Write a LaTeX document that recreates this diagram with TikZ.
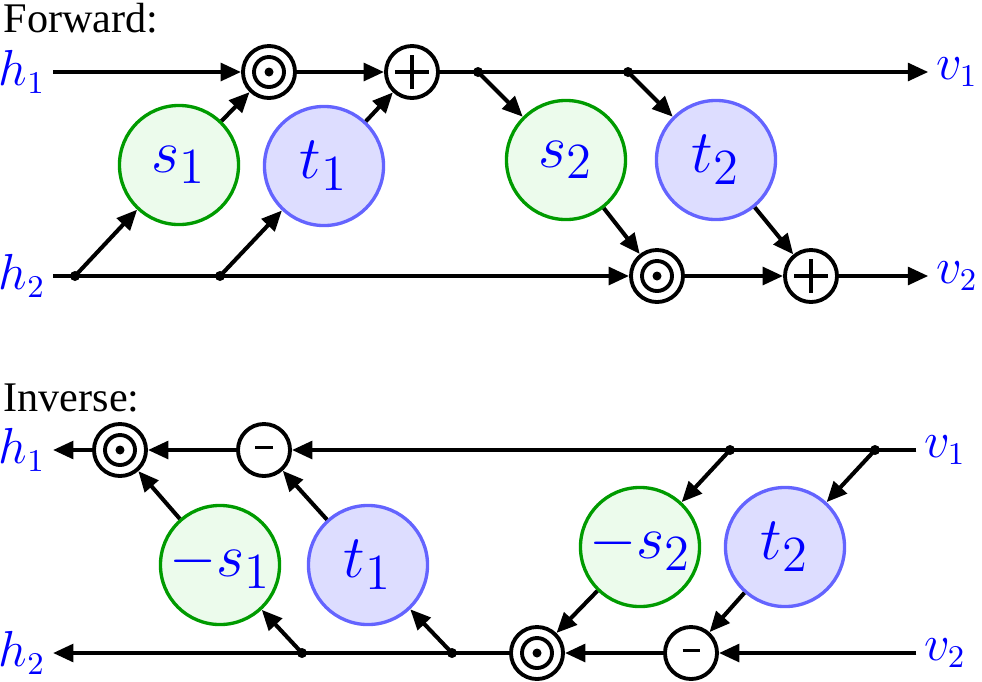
\documentclass[tikz,border=0pt]{standalone}
\usepackage{amsmath}
\usepackage{fontspec}
\setmainfont{Liberation Serif}
\usepackage{tikz}
\usetikzlibrary{arrows.meta}
\usepackage{xcolor}
\definecolor{labelblue}{RGB}{0,0,255}
\definecolor{sedge}{RGB}{0,155,0}
\definecolor{sfill}{RGB}{236,251,236}
\definecolor{tedge}{RGB}{100,100,255}
\definecolor{tfill}{RGB}{221,221,255}
\tikzset{
    flow/.style={line width=1.15pt, -{Triangle[length=5.8pt,width=5pt]}},
    snet/.style={circle, draw=sedge, fill=sfill, line width=0.95pt, minimum size=1.19cm, inner sep=0pt, text=labelblue, font=\fontsize{19}{22}\selectfont},
    tnet/.style={snet, draw=tedge, fill=tfill},
    oprt/.style={circle, draw, fill=white, line width=1.1pt, minimum size=0.52cm, inner sep=0pt},
    hadam/.style={oprt, path picture={
        \draw[black, line width=1.1pt] (path picture bounding box.center) circle (0.15cm);
        \fill[black] (path picture bounding box.center) circle (0.045cm);}},
    addop/.style={oprt, path picture={
        \draw[black, line width=0.9pt] ([xshift=-0.17cm]path picture bounding box.center) -- ([xshift=0.17cm]path picture bounding box.center);
        \draw[black, line width=0.9pt] ([yshift=-0.17cm]path picture bounding box.center) -- ([yshift=0.17cm]path picture bounding box.center);}},
    subop/.style={oprt, path picture={
        \draw[black, line width=0.85pt] ([xshift=-0.085cm,yshift=0.03cm]path picture bounding box.center) -- ([xshift=0.085cm,yshift=0.03cm]path picture bounding box.center);}},
    varlabel/.style={text=labelblue, font=\fontsize{13.5}{15}\selectfont, inner sep=2pt},
    title/.style={anchor=north west, inner sep=0pt, font=\fontsize{12}{14}\selectfont}
}

\begin{document}
\begin{tikzpicture}[x=0.01cm, y=-0.01cm]
    \useasboundingbox (0,0) rectangle (982,681);

    % forward pass
    \node[title] (fwd) at (3,3) {Forward:};
    \node[varlabel] (fh1) at (22,72) {$h_1$};
    \node[varlabel] (fh2) at (22,276) {$h_2$};
    \node[varlabel] (fv1) at (957,72) {$v_1$};
    \node[varlabel] (fv2) at (957,276) {$v_2$};
    \node[hadam] (fm1) at (269,72) {};
    \node[addop] (fp1) at (412,72) {};
    \node[hadam] (fm2) at (657,276) {};
    \node[addop] (fp2) at (811,276) {};
    \node[snet] (fs1) at (179,165) {$s_1$};
    \node[tnet] (ft1) at (324,166) {$t_1$};
    \node[snet] (fs2) at (566,160) {$s_2$};
    \node[tnet] (ft2) at (716,160) {$t_2$};
    \coordinate (fa1) at (75,276);
    \coordinate (fa2) at (220,276);
    \coordinate (fb1) at (478,72);
    \coordinate (fb2) at (628,72);

    \draw[flow] (fh1) -- (fm1);
    \draw[flow] (fm1) -- (fp1);
    \draw[flow] (fp1) -- (fv1);
    \draw[flow] (fh2) -- (fm2);
    \draw[flow] (fm2) -- (fp2);
    \draw[flow] (fp2) -- (fv2);
    \draw[flow] (fa1) -- (fs1);
    \draw[flow] (fs1) -- (fm1);
    \draw[flow] (fa2) -- (ft1);
    \draw[flow] (ft1) -- (fp1);
    \draw[flow] (fb1) -- (fs2);
    \draw[flow] (fs2) -- (fm2);
    \draw[flow] (fb2) -- (ft2);
    \draw[flow] (ft2) -- (fp2);
    \foreach \d in {fa1,fa2,fb1,fb2}
        \fill (\d) circle (0.05cm);

    % inverse pass
    \node[title] (inv) at (3,383) {Inverse:};
    \node[varlabel] (ih1) at (22,450) {$h_1$};
    \node[varlabel] (ih2) at (22,653) {$h_2$};
    \node[varlabel] (iv1) at (945,450) {$v_1$};
    \node[varlabel] (iv2) at (945,653) {$v_2$};
    \node[hadam] (im1) at (120,450) {};
    \node[subop] (iq1) at (264,450) {};
    \node[hadam] (im2) at (537,653) {};
    \node[subop] (iq2) at (691,653) {};
    \node[snet] (is1) at (220,565) {$-s_1$};
    \node[tnet] (it1) at (368,565) {$t_1$};
    \node[snet] (is2) at (640,547) {$-s_2$};
    \node[tnet] (it2) at (785,547) {$t_2$};
    \coordinate (ia1) at (302,653);
    \coordinate (ia2) at (452,653);
    \coordinate (ib1) at (730,450);
    \coordinate (ib2) at (875,450);

    \draw[flow] (iv1) -- (iq1);
    \draw[flow] (iq1) -- (im1);
    \draw[flow] (im1) -- (ih1);
    \draw[flow] (iv2) -- (iq2);
    \draw[flow] (iq2) -- (im2);
    \draw[flow] (im2) -- (ih2);
    \draw[flow] (ib1) -- (is2);
    \draw[flow] (is2) -- (im2);
    \draw[flow] (ib2) -- (it2);
    \draw[flow] (it2) -- (iq2);
    \draw[flow] (ia1) -- (is1);
    \draw[flow] (is1) -- (im1);
    \draw[flow] (ia2) -- (it1);
    \draw[flow] (it1) -- (iq1);
    \foreach \d in {ia1,ia2,ib1,ib2}
        \fill (\d) circle (0.05cm);
\end{tikzpicture}
\end{document}
